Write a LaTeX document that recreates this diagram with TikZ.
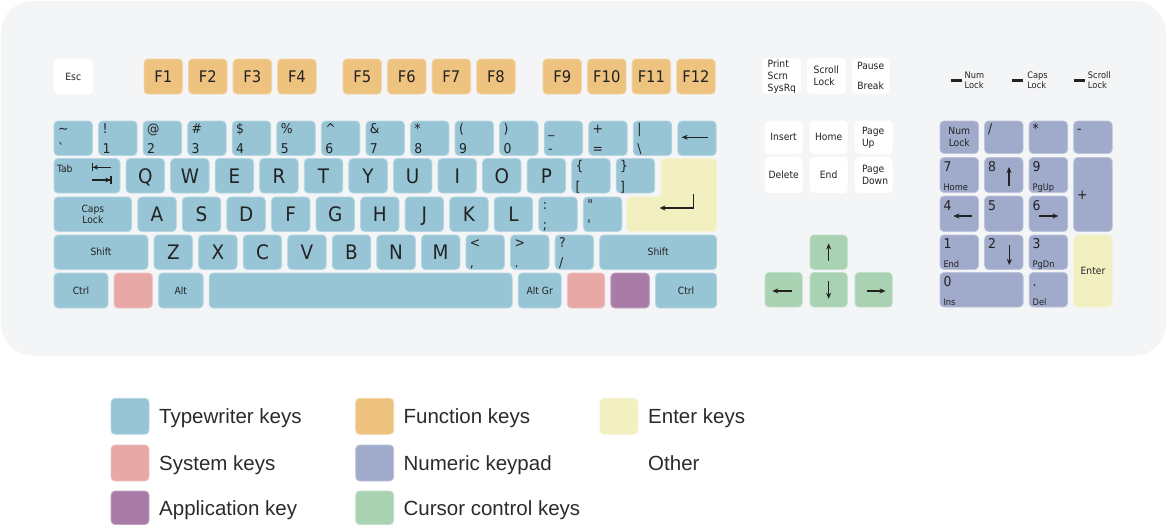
\documentclass[tikz,border=0pt]{standalone}
\usepackage{fontspec}
\setmainfont{Liberation Sans}
\newfontfamily\keyfont{DejaVu Sans}[FakeStretch=0.92]
\usetikzlibrary{positioning,arrows.meta}

\definecolor{typewkey}{HTML}{98C5D6}
\definecolor{funckey}{HTML}{EEC27F}
\definecolor{enterkey}{HTML}{F2F0C0}
\definecolor{syskey}{HTML}{E8A9A6}
\definecolor{numkey}{HTML}{A0AACA}
\definecolor{appkey}{HTML}{A97BA7}
\definecolor{curskey}{HTML}{A8D2B2}
\definecolor{boardbg}{HTML}{F4F5F7}
\definecolor{keyink}{HTML}{222222}
\definecolor{legink}{HTML}{2B2B2B}

\begin{document}
\begin{tikzpicture}[x=1pt, y=-1pt, node distance=6.06pt,
    key/.style={rectangle, rounded corners=4pt, inner sep=0pt, outer sep=0pt, line width=0.8pt,
      text=keyink, anchor=north west, minimum width=38.5pt, minimum height=34.5pt,
      font=\keyfont\fontsize{10}{12}\selectfont, text height=7.3pt, text depth=0pt},
    tw/.style={key, fill=typewkey, draw=typewkey!70!white},
    fn/.style={key, fill=funckey, draw=funckey!70!white, minimum height=35pt,
      font=\keyfont\fontsize{16}{16}\selectfont, text height=11.7pt},
    en/.style={key, fill=enterkey, draw=enterkey!70!white},
    sy/.style={key, fill=syskey, draw=syskey!70!white},
    ap/.style={key, fill=appkey, draw=appkey!70!white},
    np/.style={key, fill=numkey, draw=numkey!70!white},
    cu/.style={key, fill=curskey, draw=curskey!70!white},
    ot/.style={key, fill=white, draw=white},
    letter/.style={font=\keyfont\fontsize{20}{20}\selectfont, text height=14.6pt},
    dual/.style={align=left, text width=30.5pt, font=\keyfont\fontsize{13.5}{20.5}\selectfont,
      text height=10pt, text depth=20.2pt},
    pad/.style={align=left, text width=31.5pt, font=\keyfont\fontsize{13.5}{19}\selectfont,
      text height=11.9pt, text depth=19pt},
    karr/.style={-{Stealth[length=6pt,width=5pt]}, line width=1.3pt, draw=keyink},
    tabarr/.style={karr, -{Stealth[length=5pt,width=5pt]Bar[width=8pt]}},
    led/.style={rectangle, fill=keyink, inner sep=0pt, minimum width=10.7pt, minimum height=3pt},
    ledtext/.style={align=left, text width=30pt, inner sep=0pt, text=keyink,
      font=\keyfont\fontsize{9}{10}\selectfont, text height=6.5pt, text depth=10pt},
    legsw/.style={rectangle, rounded corners=4pt, inner sep=0pt, outer sep=0pt, anchor=north west,
      minimum width=38pt, minimum height=36pt, line width=0.8pt},
    legtext/.style={inner sep=0pt, text=legink, font=\fontsize{20.5}{24}\selectfont,
      text height=14.7pt, text depth=0pt}]
  \useasboundingbox (0,0) rectangle (1167,525);
  \fill[boardbg, rounded corners=32pt] (1,1) rectangle (1166,355.5);

  % function row
  \node[ot, minimum height=35pt] (esc) at (54,59) {Esc};
  \node[fn] (f1) at (144,59) {F1};
  \node[fn, right=of f1] (f2) {F2};
  \node[fn, right=of f2] (f3) {F3};
  \node[fn, right=of f3] (f4) {F4};
  \node[fn] (f5) at (343,59) {F5};
  \node[fn, right=of f5] (f6) {F6};
  \node[fn, right=of f6] (f7) {F7};
  \node[fn, right=of f7] (f8) {F8};
  \node[fn] (f9) at (543,59) {F9};
  \node[fn, right=of f9] (f10) {F10};
  \node[fn, right=of f10] (f11) {F11};
  \node[fn, right=of f11] (f12) {F12};

  % number row
  \node[tw, dual] (grave) at (54,121) {\textasciitilde\\\textasciigrave};
  \node[tw, dual, right=of grave] (k1) {!\\1};
  \node[tw, dual, right=of k1] (k2) {@\\2};
  \node[tw, dual, right=of k2] (k3) {\#\\3};
  \node[tw, dual, right=of k3] (k4) {\$\\4};
  \node[tw, dual, right=of k4] (k5) {\%\\5};
  \node[tw, dual, right=of k5] (k6) {\textasciicircum\\6};
  \node[tw, dual, right=of k6] (k7) {\&\\7};
  \node[tw, dual, right=of k7] (k8) {*\\8};
  \node[tw, dual, right=of k8] (k9) {(\\9};
  \node[tw, dual, right=of k9] (k0) {)\\0};
  \node[tw, dual, right=of k0] (kminus) {\_\\-};
  \node[tw, dual, right=of kminus] (kequal) {+\\=};
  \node[tw, dual, right=of kequal] (kbslash) {|\\\textbackslash};
  \node[tw, minimum width=38.3pt, right=of kbslash] (bksp) {};

  % top letter row
  \node[tw, minimum width=66pt, align=left, text width=60pt, text depth=14.8pt] (tab) at (54,158.5) {Tab};
  \node[tw, letter, right=of tab] (kq) {Q};
  \node[tw, letter, right=of kq] (kw) {W};
  \node[tw, letter, right=of kw] (ke) {E};
  \node[tw, letter, right=of ke] (kr) {R};
  \node[tw, letter, right=of kr] (kt) {T};
  \node[tw, letter, right=of kt] (ky) {Y};
  \node[tw, letter, right=of ky] (ku) {U};
  \node[tw, letter, right=of ku] (ki) {I};
  \node[tw, letter, right=of ki] (ko) {O};
  \node[tw, letter, right=of ko] (kp) {P};
  \node[tw, dual, right=of kp] (klbrack) {\{\\{[}};
  \node[tw, dual, right=of klbrack] (krbrack) {\}\\{]}};

  % home row
  \node[tw, minimum width=77.7pt, align=center, text width=76pt, text depth=11.5pt,
    font=\keyfont\fontsize{10}{11.5}\selectfont] (caps) at (54,197) {Caps\\Lock};
  \node[tw, letter, right=of caps] (ka) {A};
  \node[tw, letter, right=of ka] (ks) {S};
  \node[tw, letter, right=of ks] (kd) {D};
  \node[tw, letter, right=of kd] (kf) {F};
  \node[tw, letter, right=of kf] (kg) {G};
  \node[tw, letter, right=of kg] (kh) {H};
  \node[tw, letter, right=of kh] (kj) {J};
  \node[tw, letter, right=of kj] (kk) {K};
  \node[tw, letter, right=of kk] (kl) {L};
  \node[tw, dual, right=of kl] (ksemi) {:\\;};
  \node[tw, dual, right=of ksemi] (kquote) {"\\\textquotesingle};

  % enter key
  \draw[enterkey!70!white, fill=enterkey, line width=0.8pt, rounded corners=4pt]
    (690,158.5) -- (716.7,158.5) -- (716.7,231.5) -- (626.7,231.5) -- (626.7,196.8)
    -- (661.2,196.8) -- (661.2,158.5) -- cycle;
  \coordinate (rettop) at (693.5,194);
  \coordinate (retend) at (659.5,208);

  % shift row
  \node[tw, minimum width=94pt] (lshift) at (54,235) {Shift};
  \node[tw, letter, right=of lshift] (kz) {Z};
  \node[tw, letter, right=of kz] (kx) {X};
  \node[tw, letter, right=of kx] (kc) {C};
  \node[tw, letter, right=of kc] (kv) {V};
  \node[tw, letter, right=of kv] (kb) {B};
  \node[tw, letter, right=of kb] (kn) {N};
  \node[tw, letter, right=of kn] (km) {M};
  \node[tw, dual, right=of km] (kcomma) {<\\,};
  \node[tw, dual, right=of kcomma] (kperiod) {>\\.};
  \node[tw, dual, right=of kperiod] (kslash) {?\\/};
  \node[tw, minimum width=117pt, right=of kslash] (rshift) {Shift};

  % bottom row
  \node[tw, minimum width=54pt, minimum height=35pt] (lctrl) at (54,273) {Ctrl};
  \node[sy, minimum height=35pt, right=of lctrl] (lsys) {};
  \node[tw, minimum width=44.5pt, minimum height=35pt, right=of lsys] (alt) {Alt};
  \node[tw, minimum width=303pt, minimum height=35pt, right=of alt] (space) {};
  \node[tw, minimum width=43pt, minimum height=35pt, right=of space] (altgr) {Alt Gr};
  \node[sy, minimum width=37.5pt, minimum height=35pt, right=of altgr] (rsys) {};
  \node[ap, minimum height=35pt, right=of rsys] (menu) {};
  \node[tw, minimum width=61.3pt, minimum height=35pt, right=of menu] (rctrl) {Ctrl};

  % navigation keys
  \node[ot, minimum width=38.4pt, minimum height=35pt, align=left, text width=27.6pt,
    text depth=24pt] (prtsc) at (762.3,58.5) {Print\\Scrn\\SysRq};
  \node[ot, minimum width=38.4pt, minimum height=35pt, align=left, text width=25.6pt,
    text depth=12pt, right=6.6pt of prtsc] (scrlk) {Scroll\\Lock};
  \node[ot, minimum width=36.7pt, minimum height=35pt, align=center, text width=36pt,
    text depth=20pt, font=\keyfont\fontsize{10}{20}\selectfont, right=6.6pt of scrlk] (pause) {Pause\\Break};
  \node[ot, minimum width=37.3pt, minimum height=32.5pt] (ins) at (765,121) {Insert};
  \node[ot, minimum width=37.3pt, minimum height=32.5pt, right=7.7pt of ins] (home) {Home};
  \node[ot, minimum width=37.3pt, minimum height=32.5pt, align=left, text width=23.3pt,
    text depth=12pt, right=7.7pt of home] (pgup) {Page\\Up};
  \node[ot, minimum width=37.3pt, minimum height=35pt] (del) at (765,157.5) {Delete};
  \node[ot, minimum width=37.3pt, minimum height=35pt, right=7.7pt of del] (end) {End};
  \node[ot, minimum width=37.3pt, minimum height=35pt, align=left, text width=23.3pt,
    text depth=12pt, right=7.7pt of end] (pgdn) {Page\\Down};

  % cursor keys
  \node[cu, minimum width=37.3pt] (curup) at (810,235) {};
  \node[cu, minimum width=37.3pt] (curleft) at (765,272.5) {};
  \node[cu, minimum width=37.3pt, right=7.7pt of curleft] (curdown) {};
  \node[cu, minimum width=37.3pt, right=7.7pt of curdown] (curright) {};

  % lock lights
  \node[led] (ledn) at (956.3,80.7) {};
  \node[ledtext, right=2.6pt of ledn] (lednt) {Num\\Lock};
  \node[led] (ledc) at (1017.8,80.7) {};
  \node[ledtext, right=3.7pt of ledc] (ledct) {Caps\\Lock};
  \node[led] (leds) at (1079.5,80.7) {};
  \node[ledtext, right=2.7pt of leds] (ledst) {Scroll\\Lock};

  % numeric keypad
  \node[np, minimum height=32.5pt, align=center, text width=38pt, text depth=12pt] (numlk) at (940,121) {Num\\Lock};
  \node[np, pad, minimum height=32.5pt, right=of numlk] (ndiv) {/};
  \node[np, pad, minimum height=32.5pt, right=of ndiv] (nmul) {*};
  \node[np, pad, minimum height=32.5pt, right=of nmul] (nsub) {-};
  \node[np, pad, minimum height=35pt] (n7) at (940,157.5) {7\\{\small Home}};
  \node[np, pad, minimum height=35pt, right=of n7] (n8) {8};
  \node[np, pad, minimum height=35pt, right=of n8] (n9) {9\\{\small PgUp}};
  \node[np, pad, minimum height=74pt, text height=9.8pt, text depth=0pt] (nadd) at (1073.7,157.5) {+};
  \node[np, pad, minimum height=35.5pt] (n4) at (940,196) {4};
  \node[np, pad, minimum height=35.5pt, right=of n4] (n5) {5};
  \node[np, pad, minimum height=35.5pt, right=of n5] (n6) {6};
  \node[np, pad] (n1) at (940,235) {1\\{\small End}};
  \node[np, pad, right=of n1] (n2) {2};
  \node[np, pad, right=of n2] (n3) {3\\{\small PgDn}};
  \node[en, minimum height=72pt] (nenter) at (1073.7,235) {Enter};
  \node[np, pad, minimum width=83.1pt, text width=76.1pt] (n0) at (940,272.5) {0\\{\small Ins}};
  \node[np, pad, right=of n0] (ndot) {.\\{\small Del}};

  % key arrows
  \draw[karr] ([xshift=11.5pt,yshift=1pt]bksp.center) -- ([xshift=-15.3pt,yshift=1pt]bksp.center);
  \draw[tabarr] ([xshift=-9pt,yshift=-8.8pt]tab.north east) -- ([xshift=-28.3pt,yshift=-8.8pt]tab.north east);
  \draw[tabarr] ([xshift=-28.3pt,yshift=-21.5pt]tab.north east) -- ([xshift=-8.3pt,yshift=-21.5pt]tab.north east);
  \draw[karr] (rettop) |- (retend);
  \draw[karr] ([yshift=-8.8pt]curup.center) -- ([yshift=8.8pt]curup.center);
  \draw[karr] ([xshift=8.6pt,yshift=-1.2pt]curleft.center) -- ([xshift=-11.4pt,yshift=-1.2pt]curleft.center);
  \draw[karr] ([yshift=8.8pt]curdown.center) -- ([yshift=-9pt]curdown.center);
  \draw[karr] ([xshift=-7pt,yshift=-1.2pt]curright.center) -- ([xshift=12pt,yshift=-1.2pt]curright.center);
  \draw[karr] ([xshift=5.2pt,yshift=-28.5pt]n8.north) -- ([xshift=5.2pt,yshift=-9.5pt]n8.north);
  \draw[karr] ([xshift=13pt,yshift=-20pt]n4.north) -- ([xshift=-6pt,yshift=-20pt]n4.north);
  \draw[karr] ([xshift=-9pt,yshift=-20pt]n6.north) -- ([xshift=10pt,yshift=-20pt]n6.north);
  \draw[karr] ([xshift=5.5pt,yshift=-10pt]n2.north) -- ([xshift=5.5pt,yshift=-30pt]n2.north);

  % legend
  \node[legsw, fill=typewkey, draw=typewkey!70!white] (lgtw) at (111,398.3) {};
  \node[legtext, right=10pt of lgtw] (lgtwt) {Typewriter keys};
  \node[legsw, fill=syskey, draw=syskey!70!white] (lgsy) at (111,445) {};
  \node[legtext, right=10pt of lgsy] (lgsyt) {System keys};
  \node[legsw, fill=appkey, draw=appkey!70!white, minimum height=33.5pt] (lgap) at (111,491) {};
  \node[legtext, right=10pt of lgap] (lgapt) {Application key};
  \node[legsw, fill=funckey, draw=funckey!70!white] (lgfn) at (355.7,398.3) {};
  \node[legtext, right=9.7pt of lgfn] (lgfnt) {Function keys};
  \node[legsw, fill=numkey, draw=numkey!70!white] (lgnp) at (355.7,445) {};
  \node[legtext, right=9.7pt of lgnp] (lgnpt) {Numeric keypad};
  \node[legsw, fill=curskey, draw=curskey!70!white, minimum height=33.5pt] (lgcu) at (355.7,491) {};
  \node[legtext, right=9.7pt of lgcu] (lgcut) {Cursor control keys};
  \node[legsw, fill=enterkey, draw=enterkey!70!white] (lgen) at (600,398.3) {};
  \node[legtext, right=10pt of lgen] (lgent) {Enter keys};
  \node[legsw, fill=white, draw=white] (lgot) at (600,445) {};
  \node[legtext, right=10pt of lgot] (lgott) {Other};
\end{tikzpicture}
\end{document}
